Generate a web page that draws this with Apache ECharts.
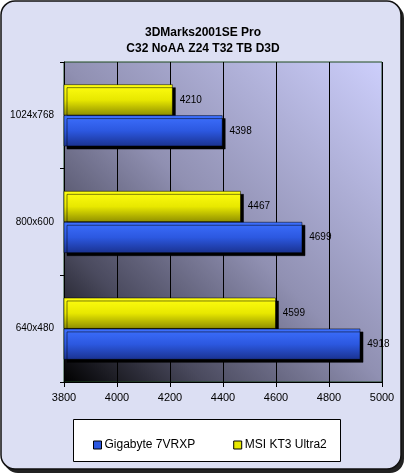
<!DOCTYPE html>
<html><head><meta charset="utf-8">
<script src="https://cdn.jsdelivr.net/npm/echarts@6/dist/echarts.min.js"></script>
<style>html,body{margin:0;padding:0;background:#fff}#c{width:406px;height:475px}</style>
</head><body><div id="c"></div>
<script>
const categories = ['640x480', '800x600', '1024x768'];
const gigabyte = [4918, 4699, 4398];
const msi = [4599, 4467, 4210];
const seriesNames = ['Gigabyte 7VRXP', 'MSI KT3 Ultra2'];
const titleLines = ['3DMarks2001SE Pro', 'C32 NoAA Z24 T32 TB D3D'];

const chart = echarts.init(document.getElementById('c'), null, {renderer: 'canvas'});
const font = 'Liberation Sans, Arial, sans-serif';
const blueGrad = new echarts.graphic.LinearGradient(0, 0, 0, 1, [
  {offset: 0, color: '#3d70ff'}, {offset: 0.5, color: '#2c58e0'}, {offset: 1, color: '#1a3290'}]);
const yelGrad = new echarts.graphic.LinearGradient(0, 0, 0, 1, [
  {offset: 0, color: '#ffff10'}, {offset: 0.5, color: '#e8e800'}, {offset: 1, color: '#8f8f00'}]);
const labelStyle = {show: true, position: 'right', distance: 7, fontFamily: font, fontSize: 10, color: '#000'};

chart.setOption({
  animation: false,
  backgroundColor: 'transparent',
  graphic: [
    {type: 'rect', z: -10, shape: {x: 4, y: 4, width: 400, height: 469, r: 14}, style: {fill: '#222'}},
    {type: 'rect', z: -9, shape: {x: 1, y: 1, width: 400, height: 468, r: 14}, style: {fill: '#dcdff3', stroke: '#111', lineWidth: 1.5}},
    {type: 'rect', z: -8, shape: {x: 73.5, y: 419.5, width: 267, height: 42}, style: {fill: '#fff', stroke: '#000', lineWidth: 1}}
  ],
  title: {
    text: titleLines.join('\n'), left: 'center', top: 20,
    textStyle: {fontFamily: font, fontSize: 12, fontWeight: 'bold', color: '#000', lineHeight: 16}
  },
  legend: {
    left: 88, top: 434, itemWidth: 8, itemHeight: 8, itemGap: 38, icon: 'rect',
    textStyle: {fontFamily: font, fontSize: 12, color: '#000', padding: [0, 0, 0, -2]},
    data: [
      {name: seriesNames[0], itemStyle: {color: '#2c58e0', borderColor: '#000', borderWidth: 1}},
      {name: seriesNames[1], itemStyle: {color: '#e8e800', borderColor: '#000', borderWidth: 1}}
    ]
  },
  grid: {
    left: 64, right: 24, top: 62, bottom: 93, show: true, borderColor: '#1f4a1f', borderWidth: 1,
    backgroundColor: new echarts.graphic.LinearGradient(0, 1, 1, 0, [
      {offset: 0, color: '#000000'}, {offset: 0.22, color: '#4a4a5e'}, {offset: 0.5, color: '#9090b2'}, {offset: 1, color: '#cdcffc'}])
  },
  xAxis: {
    type: 'value', min: 3800, max: 5000, interval: 200,
    axisLine: {show: true, lineStyle: {color: '#000'}},
    axisTick: {show: true, length: 5, inside: false, lineStyle: {color: '#000'}},
    axisLabel: {fontFamily: font, fontSize: 11, color: '#000', margin: 10, formatter: v => String(v)},
    splitLine: {show: true, lineStyle: {color: '#000', width: 1}}
  },
  yAxis: {
    type: 'category', data: categories,
    axisLine: {show: true, lineStyle: {color: '#000'}},
    axisTick: {show: true, length: 4, lineStyle: {color: '#000'}},
    axisLabel: {fontFamily: font, fontSize: 10, color: '#000', margin: 10},
    splitLine: {show: false}
  },
  series: [
    {name: seriesNames[1], type: 'bar', data: msi, barGap: '0%', barCategoryGap: '42%',
     itemStyle: {color: yelGrad, borderColor: '#000', borderWidth: 0.5, shadowColor: '#000', shadowOffsetX: 3, shadowOffsetY: 3, shadowBlur: 0},
     label: labelStyle},
    {name: seriesNames[0], type: 'bar', data: gigabyte,
     itemStyle: {color: blueGrad, borderColor: '#000', borderWidth: 0.5, shadowColor: '#000', shadowOffsetX: 3, shadowOffsetY: 3, shadowBlur: 0},
     label: labelStyle}
  ]
});
</script></body></html>
